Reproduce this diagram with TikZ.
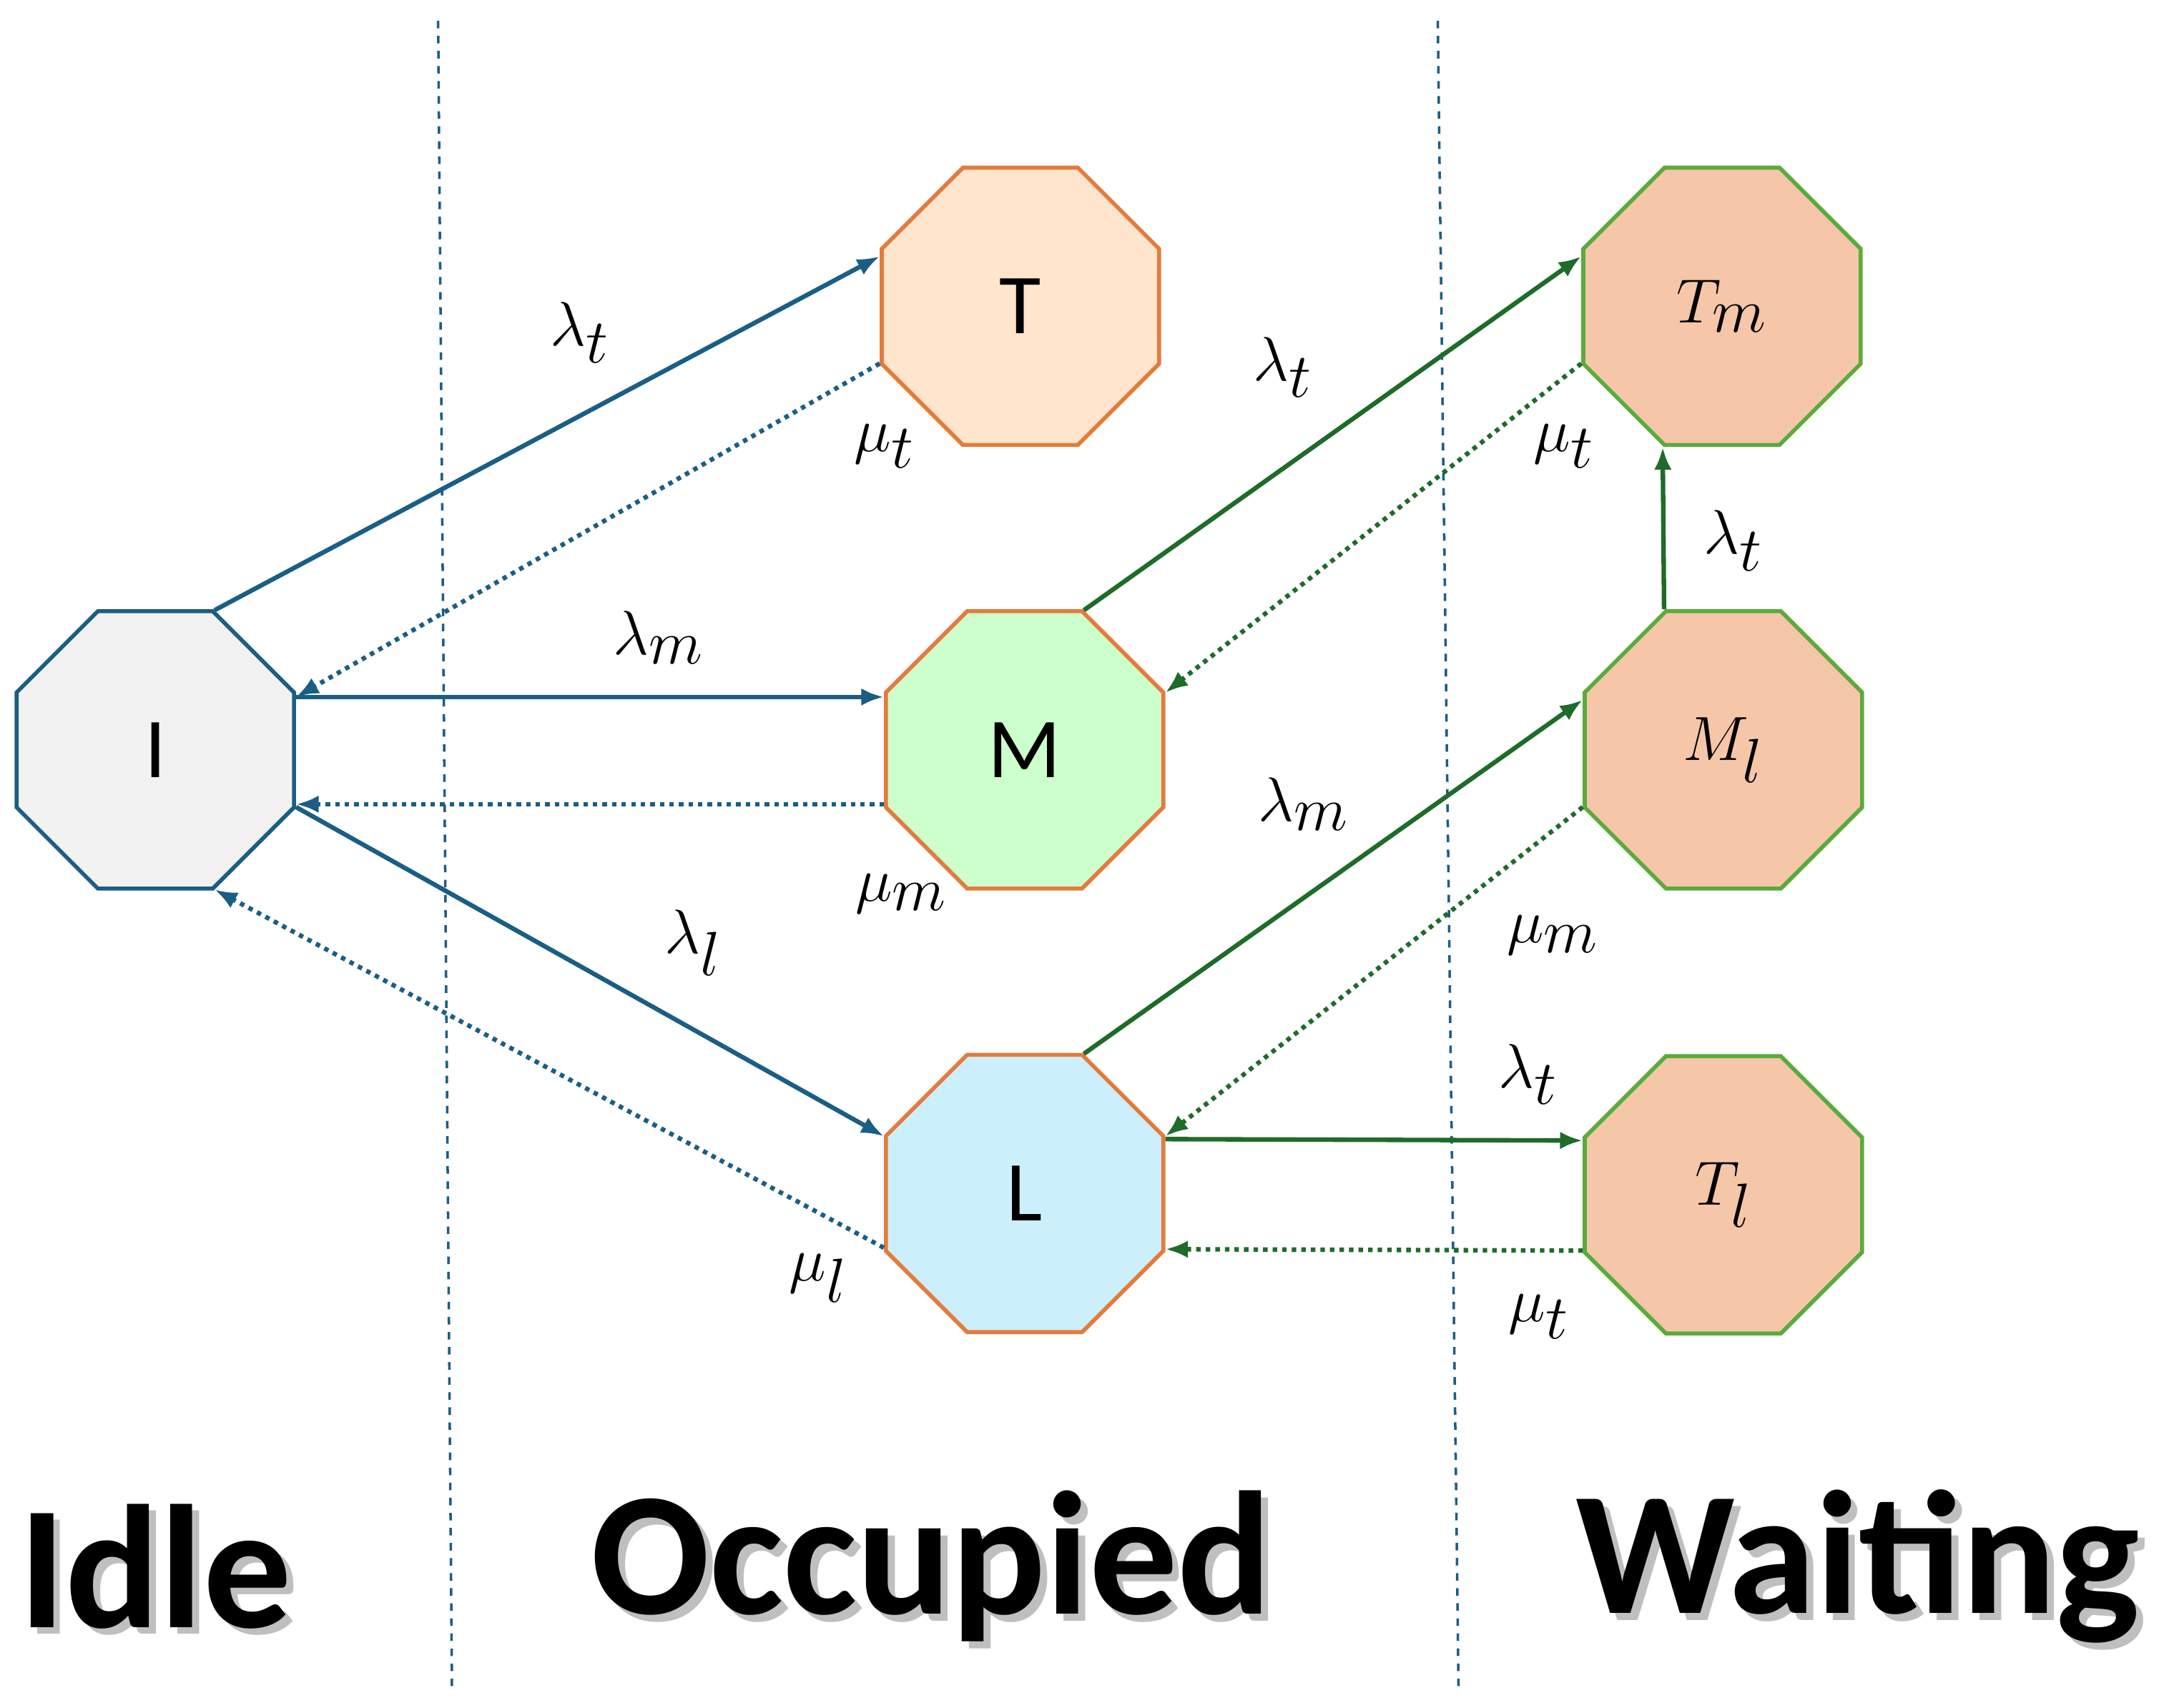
\documentclass[tikz,border=0pt]{standalone}
\usepackage{fontspec}
\setmainfont{Carlito}
\usepackage{tikz}
\usetikzlibrary{shapes.geometric,arrows.meta,positioning,calc}

\definecolor{blueline}{HTML}{1B5E85}
\definecolor{greenline}{HTML}{1E6B2A}
\definecolor{orangeedge}{HTML}{E47B3C}
\definecolor{greenedge}{HTML}{5AAB3C}
\definecolor{waitfill}{HTML}{F5C6A8}

\begin{document}
\begin{tikzpicture}[x=0.01939cm, y=-0.01939cm,
            state/.style={draw, regular polygon, regular polygon sides=8, minimum size=4.2cm,
                inner sep=0pt, line width=1.6pt, font=\fontsize{34}{40}\selectfont},
            idle/.style={state, draw=blueline, fill=gray!10},
            busy/.style={state, draw=orangeedge},
            wait/.style={state, draw=greenedge, fill=waitfill},
            barrier/.style={dashed, blueline, line width=1pt},
            arrow/.style={-{Latex[length=9pt,width=7pt]}, line width=1.8pt},
            back/.style={arrow, dotted, line width=1.8pt},
            rate/.style={font=\fontsize{34}{40}\selectfont},
            region/.style={font=\bfseries\fontsize{70}{80}\selectfont}
        ]
            \useasboundingbox (0,0) rectangle (1568,1232);

            % Regions
            \draw[barrier] (316,15) -- (326,1220);
            \draw[barrier] (1037,15) -- (1052,1220);

            % States
            \node[idle] (I) at (112,541) {I};
            \node[busy, fill=orange!20!white] (T) at (736,221) {T};
            \node[busy, fill=green!20!white] (M) at (739,541) {M};
            \node[busy, fill=cyan!20!white] (L) at (739,861) {L};
            \node[wait] (Tm) at (1242,221) {$T_m$};
            \node[wait] (Ml) at (1243,541) {$M_l$};
            \node[wait] (Tl) at (1243,862) {$T_l$};

            % Idle <-> occupied
            \draw[arrow, blueline] (I.67.5) -- ([yshift=0.7cm]T.west);
            \draw[back, blueline] ([yshift=-0.8cm]T.west) -- ([yshift=0.74cm]I.east);
            \draw[arrow, blueline] ([yshift=0.74cm]I.east) -- ([yshift=0.74cm]M.west);
            \draw[back, blueline] ([yshift=-0.76cm]M.west) -- ([yshift=-0.76cm]I.east);
            \draw[arrow, blueline] ([yshift=-0.8cm]I.east) -- ([yshift=0.8cm]L.west);
            \draw[back, blueline] ([yshift=-0.76cm]L.west) -- (I.-67.5);

            % Occupied <-> waiting
            \draw[arrow, greenline] (M.67.5) -- ([yshift=0.7cm]Tm.west);
            \draw[back, greenline] ([yshift=-0.8cm]Tm.west) -- ([yshift=0.8cm]M.east);
            \draw[arrow, greenline] ([xshift=-0.83cm]Ml.north) -- ([xshift=-0.83cm]Tm.south);
            \draw[arrow, greenline] (L.67.5) -- ([yshift=0.7cm]Ml.west);
            \draw[back, greenline] ([yshift=-0.8cm]Ml.west) -- ([yshift=0.8cm]L.east);
            \draw[arrow, greenline] ([yshift=0.76cm]L.east) -- ([yshift=0.76cm]Tl.west);
            \draw[back, greenline] ([yshift=-0.78cm]Tl.west) -- ([yshift=-0.78cm]L.east);

            % Rates
            \node[rate] (lt1) at (418,240) {$\lambda_t$};
            \node[rate] (mt1) at (638,322) {$\mu_t$};
            \node[rate] (lm1) at (475,460) {$\lambda_m$};
            \node[rate] (mm1) at (650,645) {$\mu_m$};
            \node[rate] (ll1) at (500,680) {$\lambda_l$};
            \node[rate] (ml1) at (590,922) {$\mu_l$};
            \node[rate] (lt2) at (925,265) {$\lambda_t$};
            \node[rate] (mt2) at (1128,322) {$\mu_t$};
            \node[rate] (lt3) at (1250,390) {$\lambda_t$};
            \node[rate] (lm2) at (940,580) {$\lambda_m$};
            \node[rate] (mm2) at (1120,675) {$\mu_m$};
            \node[rate] (lt4) at (1102,775) {$\lambda_t$};
            \node[rate] (mt3) at (1110,950) {$\mu_t$};

            % Region names
            \foreach \name/\x in {Idle/112, Occupied/672, Waiting/1340} {
                \node[region, gray!50] at (\x+5,1135) {\name};
                \node[region] at (\x,1130) {\name};
            }
        \end{tikzpicture}
\end{document}
